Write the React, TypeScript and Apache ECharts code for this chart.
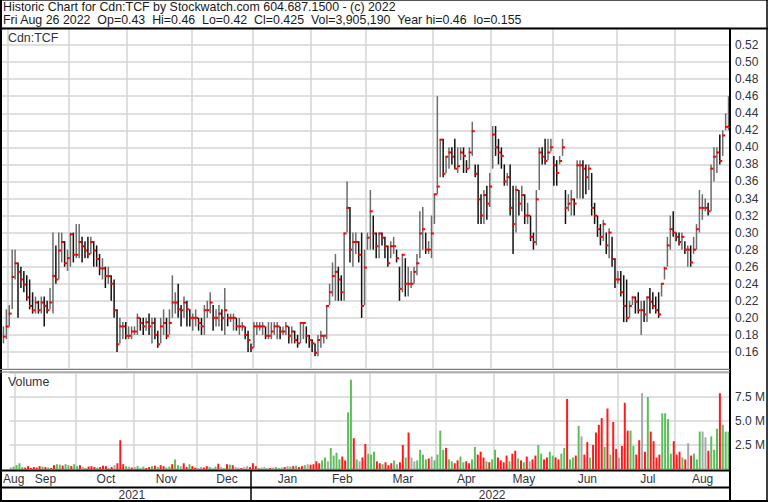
import React, { useEffect, useRef } from "react";
import * as echarts from "echarts";

// ---- calendar layout (trading days per month) ----
const MONTH_LABELS = ["Aug", "Sep", "Oct", "Nov", "Dec", "Jan", "Feb", "Mar", "Apr", "May", "Jun", "Jul", "Aug"];
const MONTH_YEARS = [2021, 2021, 2021, 2021, 2021, 2022, 2022, 2022, 2022, 2022, 2022, 2022, 2022];
const MONTH_DAYS = [2, 21, 20, 22, 21, 20, 19, 23, 20, 21, 22, 20, 19];

// ---- daily close / high / low (CAD) ----
const CLOSE = [
  0.178, 0.19,
  0.205, 0.248, 0.264, 0.254, 0.245, 0.239, 0.224, 0.214, 0.209, 0.218, 0.209, 0.218, 0.214, 0.209, 0.218, 0.249, 0.245, 0.279, 0.289, 0.264, 0.27,
  0.298, 0.274, 0.274, 0.289, 0.284, 0.279, 0.275, 0.289, 0.279, 0.269, 0.258, 0.258, 0.249, 0.249, 0.24, 0.209, 0.169, 0.19, 0.19, 0.179,
  0.179, 0.184, 0.184, 0.2, 0.194, 0.19, 0.195, 0.19, 0.194, 0.18, 0.169, 0.19, 0.194, 0.179, 0.194, 0.218, 0.218, 0.21, 0.209, 0.218, 0.21, 0.2,
  0.2, 0.2, 0.194, 0.19, 0.209, 0.209, 0.218, 0.2, 0.2, 0.205, 0.2, 0.209, 0.2, 0.2, 0.2, 0.19, 0.19, 0.19, 0.18, 0.174, 0.165,
  0.19, 0.19, 0.19, 0.19, 0.179, 0.179, 0.184, 0.19, 0.19, 0.184, 0.184, 0.19, 0.179, 0.184, 0.174, 0.17, 0.194, 0.194, 0.179, 0.174,
  0.17, 0.159, 0.174, 0.179, 0.179, 0.214, 0.23, 0.249, 0.254, 0.245, 0.23, 0.299, 0.329, 0.28, 0.289, 0.289, 0.274, 0.214, 0.259,
  0.294, 0.325, 0.299, 0.284, 0.299, 0.294, 0.284, 0.264, 0.284, 0.284, 0.27, 0.234, 0.274, 0.24, 0.24, 0.24, 0.254, 0.264, 0.299, 0.304, 0.28, 0.28, 0.299,
  0.345, 0.354, 0.409, 0.369, 0.389, 0.394, 0.389, 0.375, 0.378, 0.394, 0.39, 0.375, 0.394, 0.419, 0.369, 0.339, 0.32, 0.344, 0.334, 0.354,
  0.415, 0.4, 0.394, 0.39, 0.36, 0.365, 0.329, 0.31, 0.35, 0.334, 0.344, 0.32, 0.32, 0.295, 0.289, 0.339, 0.394, 0.389, 0.384, 0.394, 0.4,
  0.379, 0.37, 0.384, 0.4, 0.329, 0.334, 0.339, 0.334, 0.379, 0.379, 0.375, 0.365, 0.375, 0.329, 0.32, 0.304, 0.295, 0.31, 0.285, 0.3, 0.269, 0.245,
  0.245, 0.23, 0.214, 0.2, 0.214, 0.224, 0.219, 0.209, 0.209, 0.204, 0.224, 0.219, 0.214, 0.209, 0.204, 0.24, 0.258, 0.285, 0.304, 0.3,
  0.295, 0.289, 0.295, 0.28, 0.28, 0.265, 0.28, 0.304, 0.329, 0.329, 0.329, 0.325, 0.375, 0.389, 0.394, 0.384, 0.414, 0.424, 0.425,
];
const HIGH = [
  0.19, 0.21,
  0.215, 0.28, 0.28, 0.265, 0.26, 0.255, 0.25, 0.245, 0.23, 0.225, 0.22, 0.225, 0.225, 0.22, 0.235, 0.3, 0.285, 0.3, 0.3, 0.29, 0.28,
  0.3, 0.3, 0.31, 0.31, 0.295, 0.29, 0.295, 0.295, 0.29, 0.285, 0.275, 0.27, 0.26, 0.26, 0.25, 0.245, 0.21, 0.2, 0.195, 0.195,
  0.19, 0.19, 0.19, 0.205, 0.2, 0.2, 0.2, 0.205, 0.2, 0.2, 0.185, 0.2, 0.21, 0.2, 0.21, 0.25, 0.23, 0.24, 0.215, 0.225, 0.22, 0.21,
  0.205, 0.21, 0.2, 0.2, 0.215, 0.22, 0.23, 0.215, 0.21, 0.215, 0.21, 0.235, 0.205, 0.205, 0.205, 0.2, 0.2, 0.195, 0.19, 0.185, 0.17,
  0.195, 0.195, 0.195, 0.195, 0.19, 0.195, 0.195, 0.195, 0.195, 0.19, 0.19, 0.195, 0.19, 0.19, 0.185, 0.18, 0.195, 0.195, 0.19, 0.18,
  0.175, 0.17, 0.18, 0.185, 0.18, 0.215, 0.24, 0.265, 0.275, 0.26, 0.25, 0.3, 0.36, 0.33, 0.3, 0.3, 0.29, 0.3, 0.28,
  0.3, 0.35, 0.32, 0.3, 0.3, 0.3, 0.295, 0.285, 0.29, 0.295, 0.28, 0.26, 0.275, 0.27, 0.26, 0.255, 0.26, 0.275, 0.325, 0.33, 0.3, 0.29, 0.32,
  0.345, 0.46, 0.41, 0.41, 0.39, 0.4, 0.4, 0.41, 0.4, 0.4, 0.4, 0.385, 0.4, 0.43, 0.38, 0.38, 0.345, 0.35, 0.355, 0.37,
  0.425, 0.425, 0.41, 0.4, 0.38, 0.37, 0.38, 0.355, 0.355, 0.35, 0.355, 0.345, 0.335, 0.32, 0.3, 0.35, 0.4, 0.4, 0.41, 0.41, 0.41,
  0.39, 0.385, 0.39, 0.41, 0.35, 0.345, 0.35, 0.34, 0.385, 0.385, 0.385, 0.38, 0.38, 0.37, 0.335, 0.32, 0.31, 0.315, 0.3, 0.305, 0.295, 0.27,
  0.255, 0.255, 0.25, 0.245, 0.22, 0.225, 0.225, 0.23, 0.22, 0.22, 0.225, 0.235, 0.23, 0.225, 0.23, 0.24, 0.26, 0.295, 0.32, 0.325,
  0.3, 0.3, 0.3, 0.29, 0.285, 0.285, 0.295, 0.31, 0.35, 0.345, 0.34, 0.335, 0.38, 0.4, 0.4, 0.415, 0.42, 0.44, 0.46,
];
const LOW = [
  0.17, 0.175,
  0.19, 0.21, 0.245, 0.2, 0.235, 0.23, 0.22, 0.21, 0.205, 0.205, 0.205, 0.205, 0.19, 0.205, 0.21, 0.205, 0.24, 0.245, 0.265, 0.26, 0.255,
  0.26, 0.265, 0.27, 0.27, 0.265, 0.27, 0.27, 0.275, 0.26, 0.26, 0.25, 0.245, 0.235, 0.24, 0.22, 0.2, 0.16, 0.17, 0.175, 0.175,
  0.175, 0.175, 0.18, 0.18, 0.185, 0.18, 0.185, 0.18, 0.17, 0.175, 0.165, 0.17, 0.18, 0.175, 0.18, 0.2, 0.205, 0.2, 0.19, 0.2, 0.19, 0.19,
  0.185, 0.19, 0.185, 0.18, 0.18, 0.2, 0.205, 0.185, 0.19, 0.19, 0.185, 0.18, 0.19, 0.195, 0.185, 0.185, 0.18, 0.185, 0.175, 0.16, 0.16,
  0.165, 0.18, 0.185, 0.18, 0.175, 0.175, 0.175, 0.18, 0.175, 0.175, 0.18, 0.18, 0.17, 0.17, 0.17, 0.165, 0.17, 0.175, 0.17, 0.165,
  0.16, 0.155, 0.155, 0.165, 0.17, 0.175, 0.215, 0.225, 0.22, 0.22, 0.22, 0.22, 0.3, 0.265, 0.26, 0.275, 0.265, 0.2, 0.215,
  0.28, 0.28, 0.28, 0.27, 0.27, 0.285, 0.27, 0.26, 0.27, 0.275, 0.265, 0.22, 0.23, 0.225, 0.225, 0.235, 0.24, 0.25, 0.27, 0.28, 0.275, 0.275, 0.27,
  0.31, 0.345, 0.365, 0.365, 0.37, 0.375, 0.38, 0.375, 0.37, 0.385, 0.37, 0.37, 0.375, 0.39, 0.365, 0.31, 0.31, 0.31, 0.315, 0.33,
  0.375, 0.39, 0.38, 0.375, 0.355, 0.355, 0.32, 0.275, 0.3, 0.32, 0.325, 0.31, 0.31, 0.29, 0.28, 0.285, 0.35, 0.38, 0.38, 0.385, 0.395,
  0.355, 0.355, 0.38, 0.39, 0.31, 0.325, 0.32, 0.32, 0.34, 0.34, 0.34, 0.345, 0.35, 0.32, 0.31, 0.295, 0.285, 0.29, 0.275, 0.27, 0.26, 0.235,
  0.24, 0.225, 0.195, 0.195, 0.2, 0.215, 0.205, 0.205, 0.18, 0.195, 0.195, 0.205, 0.21, 0.205, 0.2, 0.225, 0.245, 0.26, 0.28, 0.295,
  0.29, 0.285, 0.28, 0.275, 0.26, 0.26, 0.275, 0.28, 0.3, 0.315, 0.325, 0.32, 0.325, 0.36, 0.37, 0.38, 0.39, 0.42, 0.42,
];
// ---- daily volume, millions of shares ----
const VOLUME_M = [
  0.15, 0.25,
  0.4, 0.6, 0.2, 0.15, 0.3, 0.1, 0.2, 0.15, 0.3, 0.25, 0.2, 0.15, 0.1, 0.4, 0.5, 0.45, 0.35, 0.5, 0.4, 0.3, 0.5,
  0.3, 0.4, 0.2, 0.1, 0.25, 0.3, 0.2, 0.15, 0.2, 0.35, 0.3, 0.1, 0.2, 0.4, 0.6, 3.0, 0.5, 0.3, 0.25, 0.15,
  0.2, 0.3, 0.15, 0.25, 0.1, 0.2, 0.3, 0.35, 0.2, 0.4, 0.3, 0.15, 0.25, 0.5, 1.0, 0.4, 0.3, 0.6, 0.2, 0.5, 0.3, 0.15,
  0.1, 0.2, 0.15, 0.3, 0.2, 0.1, 0.25, 0.55, 0.2, 0.1, 0.5, 0.45, 0.4, 0.2, 0.15, 0.1, 0.2, 0.3, 0.2, 0.6, 0.3,
  0.1, 0.15, 0.2, 0.1, 0.1, 0.15, 0.2, 0.1, 0.15, 0.2, 0.3, 0.25, 0.3, 0.35, 0.2, 0.3, 0.4, 0.5, 0.45, 0.5,
  0.8, 0.6, 0.9, 1.2, 0.8, 2.2, 1.4, 1.7, 1.0, 1.3, 0.9, 5.9, 9.3, 3.2, 1.0, 0.8, 1.2, 2.6, 1.6,
  1.5, 1.8, 0.8, 0.6, 0.5, 0.7, 0.4, 0.6, 0.9, 0.5, 0.7, 2.5, 1.2, 3.8, 1.2, 0.8, 0.9, 2.0, 1.5, 1.0, 1.1, 1.3, 0.9,
  1.5, 4.0, 2.0, 2.2, 1.0, 0.8, 0.6, 0.9, 1.3, 0.7, 0.8, 0.6, 1.0, 2.3, 1.5, 1.8, 1.2, 0.8, 0.7, 1.0,
  2.0, 1.2, 0.9, 0.7, 1.4, 0.8, 1.6, 1.9, 1.1, 0.9, 0.7, 1.3, 0.8, 1.0, 1.4, 2.5, 1.6, 1.0, 1.2, 1.8, 1.4,
  1.2, 1.0, 1.6, 2.2, 7.3, 1.0, 1.2, 1.4, 4.5, 3.4, 1.5, 2.8, 1.2, 2.5, 3.8, 4.6, 5.3, 2.3, 6.3, 1.5, 4.9, 2.1,
  1.2, 2.4, 6.9, 4.0, 4.0, 2.4, 1.5, 3.0, 7.9, 1.8, 7.5, 3.9, 2.9, 1.2, 1.5, 5.8, 5.8, 5.2, 1.6, 2.9,
  1.5, 1.8, 1.2, 1.0, 2.7, 1.4, 1.6, 1.0, 3.9, 3.9, 3.3, 1.9, 3.4, 2.0, 4.2, 7.9, 4.6, 3.9, 3.9,
];

const HEADER_1 = "Historic Chart for Cdn:TCF by Stockwatch.com 604.687.1500 - (c) 2022";
const HEADER_2 = "Fri Aug 26 2022  Op=0.43  Hi=0.46  Lo=0.42  Cl=0.425  Vol=3,905,190  Year hi=0.46  lo=0.155";
const SYMBOL_LABEL = "Cdn:TCF";
const VOLUME_LABEL = "Volume";

const FONT = "'Liberation Sans', Arial, Helvetica, sans-serif";
const GRID_COLOR = "#d4d4d4";
const TEXT_COLOR = "#333340";

export default function App() {
  const ref = useRef<HTMLDivElement>(null);

  useEffect(() => {
    if (!ref.current) return;
    const chart = echarts.init(ref.current, null, { renderer: "svg" });

    // categories + month / year markers built from the month table
    const categories: string[] = [];
    const monthStarts = new Set<number>();
    const monthMid = new Map<number, string>();
    const yearRange = new Map<number, [number, number]>();
    MONTH_DAYS.forEach((n, m) => {
      const start = categories.length;
      monthStarts.add(start);
      monthMid.set(start + Math.floor(n / 2), MONTH_LABELS[m]);
      for (let d = 0; d < n; d++) categories.push(`${MONTH_LABELS[m]} ${MONTH_YEARS[m]} #${d + 1}`);
      const y = MONTH_YEARS[m];
      const r = yearRange.get(y);
      yearRange.set(y, r ? [r[0], start + n - 1] : [start, start + n - 1]);
    });
    const yearMid = new Map<number, string>();
    yearRange.forEach((r, y) => yearMid.set(Math.floor((r[0] + r[1]) / 2), String(y)));

    const priceData = CLOSE.map((c, i) => [i, c, HIGH[i], LOW[i], i > 0 && c < CLOSE[i - 1] ? 1 : 0]);
    const volData = VOLUME_M.map((v, i) => {
      let color = "#a8a8a8";
      if (i > 0 && CLOSE[i] > CLOSE[i - 1]) color = "#5cbf5c";
      else if (i > 0 && CLOSE[i] < CLOSE[i - 1]) color = "#ff1a1a";
      return { value: v * 1e6, itemStyle: { color } };
    });

    const splitX = {
      show: true,
      interval: (i: number) => monthStarts.has(i) && i > 0,
      lineStyle: { color: GRID_COLOR, width: 1.5 },
    };
    const hiddenX = (gridIndex: number) => ({
      type: "category",
      gridIndex,
      data: categories,
      boundaryGap: true,
      axisLine: { show: false },
      axisTick: { show: false },
      axisLabel: { show: false },
      splitLine: splitX,
    });

    const L = 2;
    const R = 38;

    const line = (x1: number, y1: number, x2: number, y2: number, stroke: string, lineWidth: number) => ({
      type: "line",
      silent: true,
      z: 100,
      shape: { x1, y1, x2, y2 },
      style: { stroke, lineWidth },
    });

    const option: any = {
      animation: false,
      backgroundColor: "#ffffff",
      grid: [
        { left: L, right: R, top: 28, height: 341 },
        { left: L, right: R, top: 373, height: 96 },
      ],
      xAxis: [
        hiddenX(0),
        {
          ...hiddenX(1),
          axisLabel: {
            show: true,
            interval: (i: number) => monthMid.has(i),
            formatter: (_v: string, i: number) => monthMid.get(i) || "",
            margin: 4,
            fontSize: 12,
            fontFamily: FONT,
            color: TEXT_COLOR,
          },
        },
        {
          type: "category",
          gridIndex: 1,
          data: categories,
          boundaryGap: true,
          position: "bottom",
          offset: 16,
          axisLine: { show: false },
          axisTick: { show: false },
          splitLine: { show: false },
          axisLabel: {
            show: true,
            interval: (i: number) => yearMid.has(i),
            formatter: (_v: string, i: number) => yearMid.get(i) || "",
            margin: 4,
            fontSize: 12,
            fontFamily: FONT,
            color: TEXT_COLOR,
          },
        },
      ],
      yAxis: [
        {
          type: "value",
          gridIndex: 0,
          position: "right",
          min: 0.14,
          max: 0.54,
          interval: 0.02,
          axisLine: { show: false },
          axisTick: { show: false },
          axisLabel: {
            margin: 5,
            fontSize: 12,
            fontFamily: FONT,
            color: TEXT_COLOR,
            formatter: (v: number) => (v < 0.15 || v > 0.53 ? "" : v.toFixed(2)),
          },
          splitLine: { show: true, lineStyle: { color: GRID_COLOR, width: 1.5 } },
        },
        {
          type: "value",
          gridIndex: 1,
          position: "right",
          min: 0,
          max: 10e6,
          interval: 2.5e6,
          axisLine: { show: false },
          axisTick: { show: false },
          axisLabel: {
            margin: 5,
            fontSize: 12,
            fontFamily: FONT,
            color: TEXT_COLOR,
            formatter: (v: number) => (v <= 0 || v >= 10e6 ? "" : (v / 1e6).toFixed(1) + " M"),
          },
          splitLine: { show: true, lineStyle: { color: GRID_COLOR, width: 1.5 } },
        },
      ],
      series: [
        {
          type: "custom",
          xAxisIndex: 0,
          yAxisIndex: 0,
          data: priceData,
          encode: { x: 0, y: [1, 2, 3] },
          renderItem: (_p: any, api: any) => {
            const i = api.value(0);
            const h = api.coord([i, api.value(2)]);
            const l = api.coord([i, api.value(3)]);
            const c = api.coord([i, api.value(1)]);
            const down = api.value(4) === 1;
            return {
              type: "group",
              children: [
                {
                  type: "line",
                  shape: { x1: h[0], y1: h[1], x2: l[0], y2: l[1] },
                  style: { stroke: down ? "#111111" : "#6c6c6c", lineWidth: 1.5 },
                },
                {
                  type: "rect",
                  shape: { x: c[0] - 0.6, y: c[1] - 1, width: 3, height: 2 },
                  style: { fill: "#ff0000" },
                },
              ],
            };
          },
        },
        {
          type: "bar",
          xAxisIndex: 1,
          yAxisIndex: 1,
          data: volData,
          barWidth: 2,
        },
      ],
      graphic: [
        {
          type: "text",
          left: 3,
          top: 1,
          silent: true,
          style: { text: HEADER_1, font: `12.4px ${FONT}`, fill: "#1a1a1a" },
        },
        {
          type: "text",
          left: 3,
          top: 14,
          silent: true,
          style: { text: HEADER_2, font: `12.4px ${FONT}`, fill: "#1a1a1a" },
        },
        {
          type: "text",
          left: 8,
          top: 32,
          silent: true,
          z: 50,
          style: { text: SYMBOL_LABEL, font: `12.4px ${FONT}`, fill: TEXT_COLOR },
        },
        {
          type: "text",
          left: 8,
          top: 376,
          silent: true,
          z: 50,
          style: { text: VOLUME_LABEL, font: `12.4px ${FONT}`, fill: TEXT_COLOR },
        },
        // frame
        line(0, 0.5, 768, 0.5, "#555", 1),
        line(1, 0, 1, 502, "#000", 2),
        line(767, 0, 767, 502, "#000", 1.5),
        line(0, 501, 768, 501, "#000", 2),
        line(0, 28.5, 768, 28.5, "#000", 2),
        line(730, 28, 730, 502, "#000", 2),
        // price / volume separator
        line(0, 369.5, 730, 369.5, "#7a7a7a", 1.2),
        line(0, 372, 730, 372, "#7a7a7a", 1.2),
        // date rows
        line(0, 470.5, 730, 470.5, "#000", 2),
        line(0, 487.5, 730, 487.5, "#000", 2),
        line(251, 470, 251, 502, "#000", 1.5),
      ],
    };

    chart.setOption(option);
    return () => chart.dispose();
  }, []);

  return (
    <div
      ref={ref}
      style={{ position: "fixed", left: 0, top: 0, width: 768, height: 502, background: "#fff" }}
    />
  );
}
